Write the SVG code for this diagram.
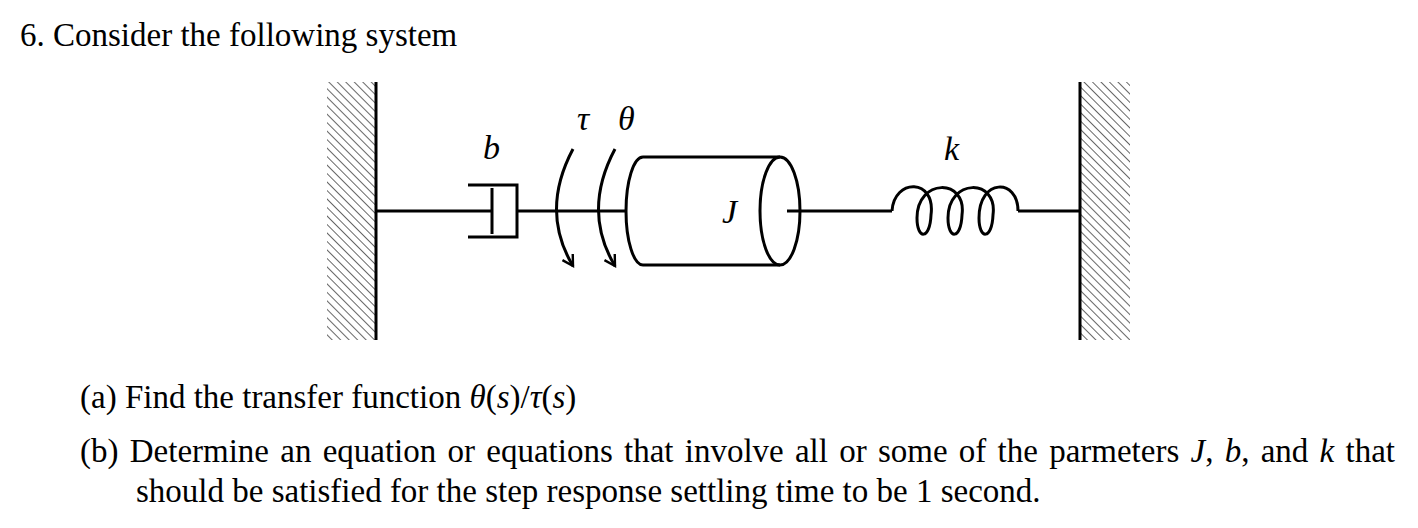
<svg xmlns="http://www.w3.org/2000/svg" width="1418" height="528" viewBox="0 0 1418 528">
<style>
.t{font-family:"Liberation Serif",serif;font-size:33px;fill:#000}
.m{font-family:"Liberation Serif",serif;font-style:italic;font-size:34px;fill:#000}
.s{fill:none;stroke:#000;stroke-width:3}
</style>
<defs>
<pattern id="h" width="6" height="6" patternUnits="userSpaceOnUse" patternTransform="rotate(-45)">
<line x1="0" y1="0" x2="0" y2="6" stroke="#000" stroke-width="1.2"/>
</pattern>
<marker id="a" viewBox="0 0 10 10" refX="8" refY="5" markerWidth="5" markerHeight="5" orient="auto"><path d="M1,1 L8,5 L1,9" fill="none" stroke="#000" stroke-width="1.6"/></marker>
</defs>
<text class="t" x="20" y="46">6. Consider the following system</text>
<g id="wallL"><rect x="327" y="82" width="48" height="258" fill="url(#h)"/><line class="s" x1="376" y1="82" x2="376" y2="340"/></g>
<g id="wallR"><rect x="1080" y="82" width="50" height="258" fill="url(#h)"/><line class="s" x1="1080" y1="82" x2="1080" y2="340"/></g>
<g id="damper"><path class="s" d="M468,185 H517 V237 H468 M492,188 V234"/><text class="m" x="483" y="159">b</text></g>
<g id="J"><path class="s" d="M780,157 H643 A17,54 0 0 0 643,265 H780"/><ellipse class="s" cx="780" cy="211" rx="20" ry="54"/><text class="m" x="722" y="223">J</text></g>
<g id="spring"><path class="s" d="M892,211 C894,178 936,178 931,215 C930,240 917,240 917,218 C917,178 967,178 962,215 C961,240 948,240 948,218 C948,178 998,178 993,215 C992,240 979,240 979,218 C979,178 1018,178 1018,211"/><text class="m" x="944" y="160">k</text></g>
<g id="torque"><path class="s" d="M573,149 Q540,211 573,266" marker-end="url(#a)"/><text class="m" x="577" y="130">τ</text></g>
<g id="angle"><path class="s" d="M615,149 Q582,211 615,266" marker-end="url(#a)"/><text class="m" x="618" y="130">θ</text></g>
<g id="connectors">
<path class="s" d="M376,211 H492 M517,211 H626 M787,211 H892 M1018,211 H1080"/>
</g>
<text class="t" x="80" y="408">(a)  Find the transfer function <tspan font-style="italic">θ</tspan>(<tspan font-style="italic">s</tspan>)/<tspan font-style="italic">τ</tspan>(<tspan font-style="italic">s</tspan>)</text>
<text class="t" x="80" y="462" word-spacing="3">(b)  Determine an equation or equations that involve all or some of the parmeters <tspan font-style="italic">J</tspan>, <tspan font-style="italic">b</tspan>, and <tspan font-style="italic">k</tspan> that</text>
<text class="t" x="136" y="502">should be satisfied for the step response settling time to be 1 second.</text>
</svg>
